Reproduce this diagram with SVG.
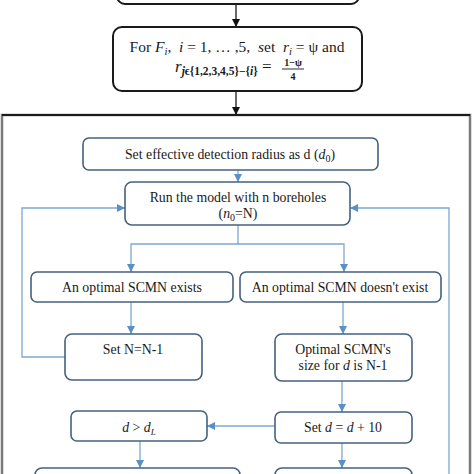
<svg xmlns="http://www.w3.org/2000/svg" width="474" height="474" viewBox="0 0 474 474">
<defs>
<marker id="ab" viewBox="0 0 10 10" refX="10" refY="5" markerWidth="8" markerHeight="8" markerUnits="userSpaceOnUse" orient="auto"><path d="M0,0 L10,5 L0,10 Z" fill="#5b8fc7"/></marker>
<marker id="ak" viewBox="0 0 10 10" refX="10" refY="5" markerWidth="8" markerHeight="8" markerUnits="userSpaceOnUse" orient="auto"><path d="M0,0 L10,5 L0,10 Z" fill="#111"/></marker>
<style>
.bk{fill:#fff;stroke:#1a1a1a;stroke-width:2}
.nb{fill:#fff;stroke:#44617f;stroke-width:1.6}
.t{font-family:"Liberation Serif","DejaVu Serif",serif;font-size:13.8px;fill:#1a1a1a;text-anchor:middle;white-space:pre}
.m{font-style:italic}
.cb{fill:none;stroke:#7fa7d0;stroke-width:1.3}
.ck{fill:none;stroke:#1a1a1a;stroke-width:1.3}
</style>
</defs>
<rect x="0" y="0" width="474" height="474" fill="#fff"/>
<g id="outer">
<rect x="2" y="115" width="468" height="370" fill="none" stroke="#7a7a7a" stroke-width="2.5"/>
<line x1="2" y1="115" x2="470" y2="115" stroke="#1a1a1a" stroke-width="2"/>
</g>
<g id="connectors">
<line class="ck" x1="236" y1="4" x2="236" y2="27" marker-end="url(#ak)"/>
<line class="ck" x1="236" y1="91" x2="236" y2="115" marker-end="url(#ak)"/>
<line class="cb" x1="238" y1="170" x2="238" y2="182" marker-end="url(#ab)"/>
<polyline class="cb" points="238,225 238,244 131,244 131,272" marker-end="url(#ab)"/>
<polyline class="cb" points="238,244 344,244 344,272" marker-end="url(#ab)"/>
<line class="cb" x1="131" y1="302" x2="131" y2="334" marker-end="url(#ab)"/>
<line class="cb" x1="343" y1="302" x2="343" y2="334" marker-end="url(#ab)"/>
<polyline class="cb" points="65,357 22,357 22,208 125,208" marker-end="url(#ab)"/>
<polyline class="cb" points="449,480 449,208 350,208" marker-end="url(#ab)"/>
<line class="cb" x1="342" y1="381" x2="342" y2="412" marker-end="url(#ab)"/>
<line class="cb" x1="275" y1="426" x2="207" y2="426" marker-end="url(#ab)"/>
<line class="cb" x1="140" y1="441" x2="140" y2="468" marker-end="url(#ab)"/>
<line class="cb" x1="342" y1="443" x2="342" y2="468" marker-end="url(#ab)"/>
</g>
<g id="n-top"><rect class="bk" x="117" y="-30" width="242" height="34" rx="8"/></g>
<g id="n-for">
<rect class="bk" x="113" y="27" width="249" height="64" rx="9"/>
<text class="t" x="237" y="52" style="font-size:15.5px">For <tspan class="m">F<tspan font-size="10.5" dy="3">i</tspan></tspan><tspan dy="-3">,  </tspan><tspan class="m">i</tspan> = 1, … ,5,  <tspan class="m">s</tspan>et  <tspan class="m">r<tspan font-size="10.5" dy="3">i</tspan></tspan><tspan dy="-3"> = ψ and</tspan></text>
<text class="t" x="175" y="72" style="text-anchor:start;font-size:17px"><tspan class="m">r</tspan><tspan class="m" font-size="11.5" font-weight="bold" dy="3">j</tspan><tspan font-size="11.5" font-weight="bold">ϵ{1,2,3,4,5}−{<tspan class="m">i</tspan>}</tspan><tspan dy="-3"> = </tspan></text>
<text class="t" x="293" y="66" style="font-size:10px;font-weight:bold">1−ψ</text>
<line x1="282" y1="69" x2="304" y2="69" stroke="#1a1a1a" stroke-width="0.9"/>
<text class="t" x="293" y="80" style="font-size:10px;font-weight:bold">4</text>
</g>
<g id="n-radius">
<rect class="nb" x="83" y="138" width="295" height="32" rx="6"/>
<text class="t" x="230" y="159">Set effective detection radius as d (<tspan class="m">d<tspan font-size="10" dy="2.5" font-style="normal">0</tspan></tspan><tspan dy="-2.5">)</tspan></text>
</g>
<g id="n-run">
<rect class="nb" x="125" y="182" width="225" height="43" rx="7"/>
<text class="t" x="238" y="202">Run the model with n boreholes</text>
<text class="t" x="238" y="218">(<tspan class="m">n<tspan font-size="10" dy="2.5" font-style="normal">0</tspan></tspan><tspan dy="-2.5">=N)</tspan></text>
</g>
<g id="n-exists">
<rect class="nb" x="31" y="272" width="202" height="30" rx="6"/>
<text class="t" x="132" y="292">An optimal SCMN exists</text>
</g>
<g id="n-notexist">
<rect class="nb" x="240" y="272" width="201" height="30" rx="6"/>
<text class="t" x="340" y="292">An optimal SCMN doesn't exist</text>
</g>
<g id="n-setn">
<rect class="nb" x="65" y="334" width="137" height="46" rx="7"/>
<text class="t" x="133" y="354">Set N=N-1</text>
</g>
<g id="n-size">
<rect class="nb" x="275" y="334" width="137" height="47" rx="7"/>
<text class="t" x="343" y="354">Optimal SCMN's</text>
<text class="t" x="343" y="370">size for <tspan class="m">d</tspan> is N-1</text>
</g>
<g id="n-setd">
<rect class="nb" x="275" y="412" width="137" height="31" rx="6"/>
<text class="t" x="343" y="432">Set <tspan class="m">d</tspan> = <tspan class="m">d</tspan> + 10</text>
</g>
<g id="n-dl">
<rect class="nb" x="71" y="411" width="136" height="30" rx="6"/>
<text class="t" x="139" y="432"><tspan class="m">d</tspan> &gt; <tspan class="m">d<tspan font-size="9" dy="2.5">L</tspan></tspan></text>
</g>
<g id="n-bl"><rect class="nb" x="35" y="468" width="205" height="30" rx="7"/></g>
<g id="n-br"><rect class="nb" x="275" y="468" width="137" height="30" rx="7"/></g>
</svg>
